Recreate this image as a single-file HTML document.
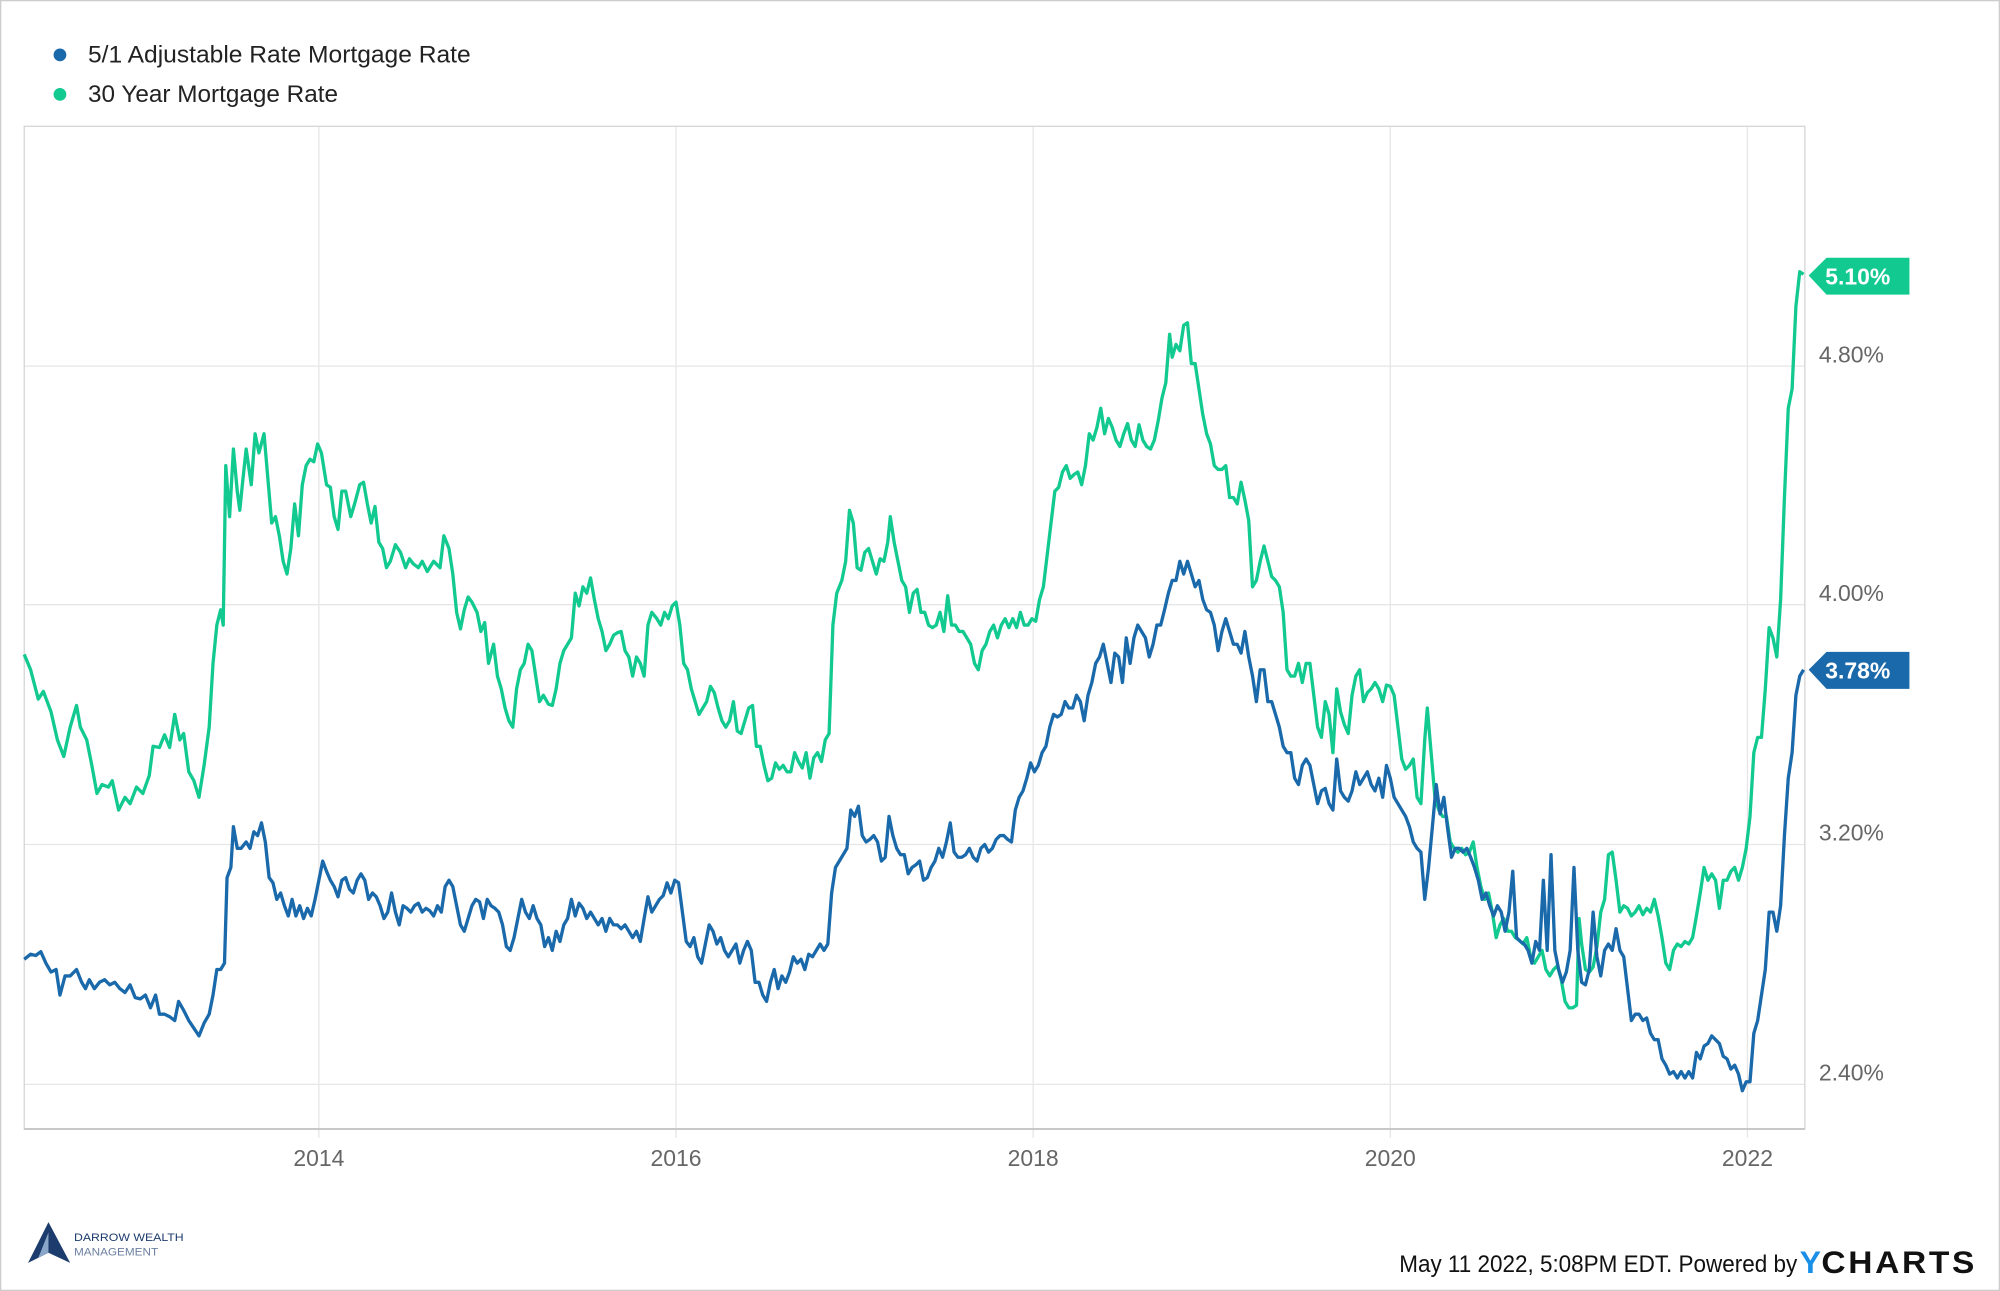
<!DOCTYPE html>
<html><head><meta charset="utf-8"><style>
html,body{margin:0;padding:0;background:#fff;}
svg{display:block;font-family:"Liberation Sans",sans-serif;}
</style></head><body>
<svg width="2000" height="1291" viewBox="0 0 1568 1012" preserveAspectRatio="none">
<rect x="0.5" y="0.5" width="1567" height="1011" fill="#fff" stroke="#ccc"/>
<!-- legend -->
<circle cx="47" cy="43" r="5" fill="#1a69aa"/>
<text x="69" y="49" font-size="18.5" fill="#222" textLength="300" lengthAdjust="spacingAndGlyphs">5/1 Adjustable Rate Mortgage Rate</text>
<circle cx="47" cy="74" r="5" fill="#12c98f"/>
<text x="69" y="80" font-size="18.5" fill="#222" textLength="196" lengthAdjust="spacingAndGlyphs">30 Year Mortgage Rate</text>
<!-- grid -->
<g stroke="#e6e6e6" stroke-width="1">
<line x1="250" y1="99" x2="250" y2="892"/><line x1="530" y1="99" x2="530" y2="892"/><line x1="810" y1="99" x2="810" y2="892"/><line x1="1090" y1="99" x2="1090" y2="892"/><line x1="1370" y1="99" x2="1370" y2="892"/>
<line x1="19" y1="287" x2="1415" y2="287"/><line x1="19" y1="474" x2="1415" y2="474"/><line x1="19" y1="662" x2="1415" y2="662"/><line x1="19" y1="850" x2="1415" y2="850"/>
</g>
<rect x="19" y="99" width="1396" height="786" fill="none" stroke="#d4d4d4"/>
<line x1="19" y1="885" x2="1415" y2="885" stroke="#c8c8c8" stroke-width="1.5"/>
<g font-size="18" fill="#666" text-anchor="middle">
<text x="250" y="914">2014</text><text x="530" y="914">2016</text><text x="810" y="914">2018</text><text x="1090" y="914">2020</text><text x="1370" y="914">2022</text>
</g>
<g font-size="18" fill="#666">
<text x="1426" y="284">4.80%</text><text x="1426" y="471">4.00%</text><text x="1426" y="659">3.20%</text><text x="1426" y="847">2.40%</text>
</g>
<!-- series -->
<polyline fill="none" stroke="#12c98f" stroke-width="2.6" stroke-linejoin="round" points="19,513 24,525 30,548 34,542 40,558 45,580 50,593 55,570 60,553 63,570 68,580 72,600 76,622 80,615 85,617 88,612 93,635 98,625 102,630 107,617 112,622 117,608 120,585 125,586 129,576 133,586 137,560 141,580 144,575 148,605 152,612 156,625 160,600 164,570 167,520 170,490 173,478 175,490 177,365 180,405 183,352 186,385 188,400 190,380 193,352 197,380 200,340 203,355 207,340 210,375 213,410 216,405 219,420 222,440 225,450 228,430 231,395 234,420 237,380 240,365 243,360 246,362 249,348 252,355 256,380 259,382 262,405 265,415 268,385 271,385 275,405 278,395 282,380 285,378 288,395 291,410 294,397 297,425 300,430 303,445 306,440 310,427 314,433 318,445 321,438 324,442 328,445 331,440 335,448 340,440 345,445 348,420 352,430 355,450 358,480 361,493 364,478 367,468 370,472 374,480 377,495 380,488 383,520 387,505 390,530 393,540 396,555 399,565 402,570 405,540 408,525 411,520 414,505 417,510 420,530 423,550 426,545 430,552 433,553 436,540 439,520 442,510 445,505 448,500 451,465 454,475 457,460 460,465 463,453 466,470 469,485 472,495 475,510 478,505 481,498 484,496 487,495 490,510 493,515 496,530 499,515 502,520 505,530 508,490 511,480 515,485 518,490 521,480 524,485 527,475 530,472 533,490 536,520 539,525 542,540 545,550 548,560 551,555 554,550 557,538 560,543 563,555 566,565 569,570 572,565 575,550 578,573 581,575 584,565 587,555 590,553 593,585 596,585 599,600 602,612 605,610 608,598 611,603 614,600 617,605 620,605 623,590 626,597 629,602 632,590 635,610 638,594 641,590 644,597 647,580 650,575 653,490 656,465 660,455 663,440 666,400 669,410 672,445 675,447 678,433 681,430 684,440 687,450 690,438 693,440 696,425 698,405 701,425 704,440 707,455 710,460 713,480 716,465 719,462 722,480 725,480 728,490 731,492 734,490 737,480 740,495 743,467 746,490 749,490 752,495 755,495 758,500 761,505 764,520 767,525 770,510 773,505 776,495 779,490 782,500 785,490 788,485 791,492 794,485 797,492 800,480 803,490 806,490 809,485 812,487 815,470 818,460 821,435 824,410 827,385 830,382 833,370 836,365 839,375 842,372 845,370 848,380 851,365 854,340 857,345 860,335 863,320 866,340 869,328 872,335 875,345 878,350 881,340 884,332 887,345 890,350 893,333 896,345 899,350 902,352 905,345 908,330 911,312 914,300 917,262 919,280 922,270 925,275 928,255 931,253 934,285 937,285 940,305 943,325 946,340 949,348 952,365 955,368 958,368 961,365 964,390 967,390 970,395 973,378 976,392 979,408 982,460 985,455 988,440 991,428 994,440 997,452 1000,455 1003,460 1006,480 1009,525 1012,530 1015,530 1018,520 1021,535 1024,520 1027,520 1030,545 1033,570 1036,578 1039,550 1042,560 1045,590 1048,540 1051,558 1054,568 1057,575 1060,545 1063,530 1066,525 1069,550 1072,543 1075,540 1078,535 1081,540 1084,550 1087,537 1090,538 1093,545 1096,570 1099,595 1102,603 1105,600 1108,595 1111,625 1114,630 1117,580 1119,555 1122,590 1125,625 1128,635 1131,640 1134,640 1137,660 1140,665 1143,668 1146,665 1149,670 1152,668 1155,660 1158,680 1161,695 1164,705 1167,700 1170,715 1173,735 1176,725 1179,720 1182,730 1185,730 1188,735 1191,737 1194,740 1197,735 1200,750 1203,755 1206,750 1209,745 1212,760 1215,765 1218,760 1221,757 1224,768 1227,785 1230,790 1233,790 1236,788 1238,720 1240,740 1243,760 1246,762 1249,758 1252,742 1255,715 1258,705 1261,670 1264,668 1267,690 1270,715 1273,710 1276,712 1279,718 1282,715 1285,710 1288,717 1291,712 1294,715 1297,705 1300,718 1303,735 1306,755 1309,760 1312,745 1315,740 1318,742 1321,738 1324,740 1327,735 1330,718 1333,700 1336,680 1339,690 1342,685 1345,690 1348,712 1351,690 1354,690 1357,683 1360,680 1363,690 1366,680 1369,665 1372,640 1375,590 1378,578 1381,578 1384,540 1387,492 1390,500 1393,515 1396,470 1399,390 1402,320 1405,305 1408,240 1411,213 1414,215"/>
<polyline fill="none" stroke="#1a69aa" stroke-width="2.6" stroke-linejoin="round" points="19,752 24,748 28,749 32,746 36,755 40,762 44,760 47,780 51,765 55,765 60,760 64,770 67,775 70,768 74,775 78,770 82,768 86,772 90,770 94,775 98,778 102,772 106,782 110,783 114,780 118,790 122,780 125,795 129,795 133,797 137,800 140,785 144,792 148,800 152,806 156,812 160,802 164,795 167,780 170,760 173,760 176,755 178,688 181,680 183,648 186,665 189,665 193,660 196,665 199,652 202,655 205,645 208,660 211,688 214,692 217,705 220,700 223,710 226,718 229,705 232,718 235,710 238,720 241,712 244,718 247,705 250,690 253,675 256,683 259,690 262,695 265,703 268,690 271,688 274,697 277,700 280,690 283,685 286,690 289,705 292,700 295,703 298,710 301,720 304,715 307,700 310,715 313,725 316,710 319,712 322,715 325,710 328,708 331,715 334,712 337,714 340,718 343,710 346,715 349,695 352,690 355,695 358,710 361,725 364,730 367,720 370,710 373,705 376,707 379,720 382,705 385,710 388,712 391,715 394,725 397,742 400,745 403,735 406,720 409,705 412,715 415,720 418,710 421,720 424,725 427,742 430,735 433,745 436,730 439,738 442,725 445,720 448,705 451,718 454,708 457,712 460,720 463,715 466,720 469,725 472,720 475,730 478,720 481,725 484,725 487,728 490,725 493,730 496,735 499,730 502,738 505,720 508,703 511,715 514,710 517,705 520,702 523,692 526,700 529,690 532,692 535,715 538,738 541,742 544,735 547,750 550,755 553,740 556,725 559,730 562,740 565,735 568,745 571,750 574,745 577,740 580,755 583,745 586,738 589,745 592,770 595,770 598,780 601,785 604,770 607,760 610,775 613,765 616,770 619,762 622,750 625,755 628,752 631,760 634,748 637,750 640,745 643,740 646,745 649,740 652,700 655,680 658,675 661,670 664,665 667,635 670,640 673,632 676,655 679,660 682,658 685,655 688,660 691,675 694,672 697,640 700,655 703,665 706,670 709,670 712,685 715,680 718,678 721,675 724,690 727,688 730,680 733,675 736,665 739,672 742,660 745,645 748,668 751,672 754,672 757,670 760,665 763,672 766,675 769,665 772,662 775,668 778,665 781,658 784,655 787,655 790,658 793,660 796,635 799,625 802,620 805,610 808,598 811,605 814,600 817,590 820,585 823,570 826,560 829,562 832,560 835,550 838,555 841,555 844,545 847,550 850,565 853,545 856,535 859,520 862,515 865,505 868,520 871,535 874,512 877,515 880,535 883,500 886,520 889,500 892,490 895,495 898,500 901,515 904,505 907,490 910,490 913,478 916,465 919,455 922,455 925,440 928,450 931,440 934,450 937,460 940,455 943,470 946,478 949,480 952,490 955,510 958,495 961,485 964,495 967,505 970,505 973,512 976,495 979,515 982,530 985,550 988,525 991,525 994,550 997,550 1000,560 1003,570 1006,585 1009,590 1012,590 1015,610 1018,615 1021,600 1024,595 1027,600 1030,615 1033,630 1036,620 1039,618 1042,630 1045,635 1048,595 1051,620 1054,625 1057,628 1060,620 1063,605 1066,615 1069,610 1072,605 1075,615 1078,620 1081,610 1084,625 1087,600 1090,610 1093,625 1096,630 1099,635 1102,640 1105,648 1108,660 1111,665 1114,668 1117,705 1120,680 1123,648 1126,615 1129,638 1132,625 1135,650 1138,672 1141,665 1144,665 1147,668 1150,665 1153,672 1156,680 1159,690 1162,705 1165,700 1168,710 1171,718 1174,710 1177,715 1180,730 1183,715 1186,683 1189,735 1192,738 1195,740 1198,745 1201,755 1204,738 1207,745 1210,690 1213,745 1216,670 1219,745 1222,760 1225,770 1228,762 1231,745 1234,680 1237,745 1240,770 1243,772 1246,760 1249,715 1252,750 1255,765 1258,745 1261,740 1264,745 1267,728 1270,745 1273,750 1276,775 1279,800 1282,795 1285,795 1288,800 1291,798 1294,810 1297,815 1300,815 1303,830 1306,835 1309,842 1312,840 1315,845 1318,840 1321,845 1324,840 1327,845 1330,825 1333,830 1336,820 1339,818 1342,812 1345,815 1348,818 1351,828 1354,830 1357,838 1360,835 1363,842 1366,855 1369,848 1372,848 1375,810 1378,800 1381,780 1384,760 1387,715 1390,715 1393,730 1396,710 1399,655 1402,610 1405,590 1408,545 1411,530 1414,525"/>
<!-- tags -->
<polygon points="1418,216 1432,202 1497,202 1497,231 1432,231" fill="#12c98f"/>
<text x="1431" y="223" font-size="18" font-weight="bold" fill="#fff">5.10%</text>
<polygon points="1418,525 1432,511 1497,511 1497,540 1432,540" fill="#1a69aa"/>
<text x="1431" y="532" font-size="18" font-weight="bold" fill="#fff">3.78%</text>
<!-- logo -->
<polygon points="38,958 22,990 38,982 55,990" fill="#1d3c6e"/>
<polygon points="38,966 30,986 38,982" fill="#8aa6c8"/>
<text x="58" y="973" font-size="9" fill="#1d3c6e" textLength="86" lengthAdjust="spacingAndGlyphs">DARROW WEALTH</text>
<text x="58" y="984" font-size="9" fill="#6b7fa0" textLength="66" lengthAdjust="spacingAndGlyphs">MANAGEMENT</text>
<!-- footer -->
<text x="1097" y="997" font-size="18.5" fill="#111" textLength="312" lengthAdjust="spacingAndGlyphs">May 11 2022, 5:08PM EDT. Powered by</text>
<text x="1411" y="998" font-size="25" font-weight="bold" fill="#1a8fe8">Y</text>
<text x="1428" y="998" font-size="25" font-weight="bold" fill="#111" textLength="122" lengthAdjust="spacingAndGlyphs" letter-spacing="2">CHARTS</text>
</svg>
</body></html>
